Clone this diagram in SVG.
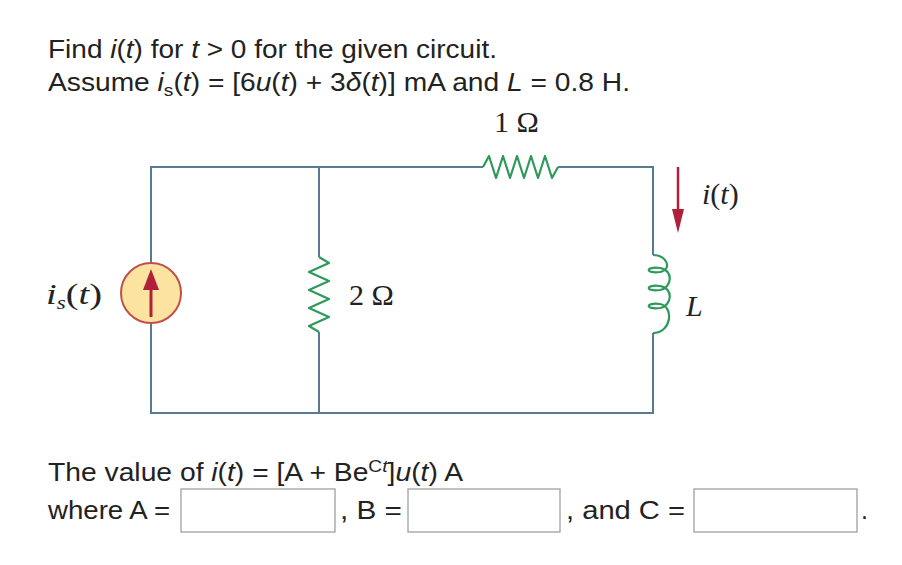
<svg xmlns="http://www.w3.org/2000/svg" width="902" height="565" viewBox="0 0 902 565">
<style>
.q{font-family:"Liberation Sans",Arial,sans-serif;font-size:25px;fill:#222}
.c{font-family:"Liberation Serif","Times New Roman",serif;font-size:30px;fill:#222}
.w{fill:none;stroke:#5a7a94;stroke-width:2}
.g{fill:none;stroke:#2e9a5a;stroke-width:2.2;stroke-linejoin:round}
.box{fill:#fff;stroke:#a0a0a0;stroke-width:1.3}
</style>
<rect width="902" height="565" fill="#fff"/>
<text class="q" x="48" y="58" textLength="449" lengthAdjust="spacingAndGlyphs">Find <tspan font-style="italic">i</tspan>(<tspan font-style="italic">t</tspan>) for <tspan font-style="italic">t</tspan> &gt; 0 for the given circuit.</text>
<text class="q" x="48" y="91" textLength="582" lengthAdjust="spacingAndGlyphs">Assume <tspan font-style="italic">i</tspan><tspan font-size="17" dy="5">s</tspan><tspan dy="-5">(</tspan><tspan font-style="italic">t</tspan>) = [6<tspan font-style="italic">u</tspan>(<tspan font-style="italic">t</tspan>) + 3<tspan font-style="italic">δ</tspan>(<tspan font-style="italic">t</tspan>)] mA and <tspan font-style="italic">L</tspan> = 0.8 H.</text>
<g id="wires">
<path class="w" d="M151,263 V167 H483 M558,167 H653 V255 M653,333 V413 H151 V323 M319,167 V257 M319,332 V413"/>
</g>
<g id="source">
<circle cx="151" cy="293" r="30" fill="#fde3a0" stroke="#c0504d" stroke-width="2"/>
<line x1="151" y1="317" x2="151" y2="287" stroke="#b0203a" stroke-width="3"/>
<polygon points="151,269 143,290 159,290" fill="#b0203a"/>
<text class="c" x="46" y="304" textLength="56" lengthAdjust="spacingAndGlyphs"><tspan font-style="italic">i</tspan><tspan font-size="18" dy="5" font-style="italic">s</tspan><tspan dy="-5">(</tspan><tspan font-style="italic">t</tspan>)</text>
</g>
<g id="r2">
<polyline class="g" points="319,257 329,263 309,272 329,281 309,290 329,299 309,308 329,317 309,326 319,332"/>
<text class="c" x="349" y="305">2 Ω</text>
</g>
<g id="r1">
<polyline class="g" points="483,167 489,156 496,178 503,156 510,178 517,156 524,178 531,156 538,178 545,156 552,178 558,167"/>
<text class="c" x="494" y="132">1 Ω</text>
</g>
<g id="inductor">
<path class="g" d="M653,255 C668,255 672,270 660,272 C645,274 645,266 660,268 C674,270 672,288 660,290 C645,292 645,284 660,286 C674,288 672,306 660,308 C645,310 645,302 660,304 C674,306 672,333 653,333"/>
<text class="c" x="686" y="316" font-style="italic">L</text>
</g>
<g id="current">
<line x1="678" y1="167" x2="678" y2="212" stroke="#b0203a" stroke-width="2.5"/>
<polygon points="678,233 672,209 684,209" fill="#b0203a"/>
<text class="c" x="702" y="204"><tspan font-style="italic">i</tspan>(<tspan font-style="italic">t</tspan>)</text>
</g>
<text class="q" x="48" y="481" textLength="415" lengthAdjust="spacingAndGlyphs">The value of <tspan font-style="italic">i</tspan>(<tspan font-style="italic">t</tspan>) = [A + Be<tspan font-size="17" dy="-9">C<tspan font-style="italic">t</tspan></tspan><tspan dy="9">]</tspan><tspan font-style="italic">u</tspan>(<tspan font-style="italic">t</tspan>) A</text>
<text class="q" x="48" y="519" textLength="122" lengthAdjust="spacingAndGlyphs">where A =</text>
<rect class="box" x="181" y="489" width="154" height="43"/>
<text class="q" x="340" y="519" textLength="62" lengthAdjust="spacingAndGlyphs">, B =</text>
<rect class="box" x="408" y="489" width="152" height="43"/>
<text class="q" x="566" y="519" textLength="119" lengthAdjust="spacingAndGlyphs">, and C =</text>
<rect class="box" x="694" y="489" width="163" height="43"/>
<text class="q" x="861" y="519">.</text>
</svg>
